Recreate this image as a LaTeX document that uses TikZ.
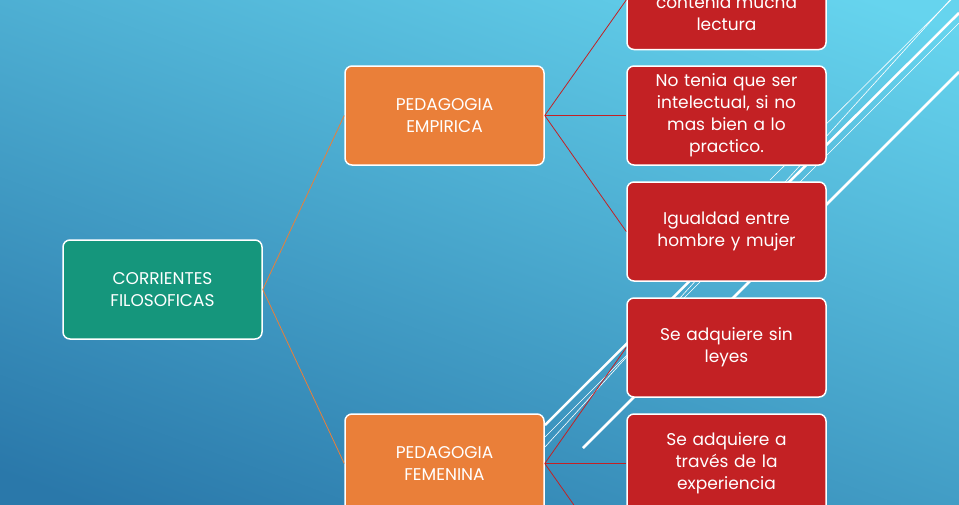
\documentclass[tikz,border=0pt]{standalone}
\usepackage{fontspec}
\setmainfont{Poppins}
\usetikzlibrary{shadings}
\definecolor{bgtop}{HTML}{66D4EE}
\definecolor{bgbot}{HTML}{2A78AA}
\definecolor{teal}{HTML}{15967C}
\definecolor{orng}{HTML}{EA7F39}
\definecolor{rd}{HTML}{C32124}
\tikzset{
 box/.style={draw=white,line width=1.5pt,rounded corners=7pt,minimum width=199pt,minimum height=99pt,text width=195pt,align=center,text=white,font=\fontsize{17}{22}\selectfont,inner sep=0pt},
 txt/.style={text=white,align=center,font=\fontsize{17}{22}\selectfont},
 wl/.style={white,line width=2.5pt},
 tl/.style={white,line width=0.6pt},
}
\begin{document}
\begin{tikzpicture}[x=1pt,y=-1pt]
\useasboundingbox (0,0) rectangle (959,504);
\clip (0,0) rectangle (959,504);
\shade[top color=bgtop,bottom color=bgbot,shading angle=-20] (-60,-60) rectangle (1019,564);
\draw[wl] (583,448) -- (959,72);
\draw[wl] (545,425) -- (959,13);
\draw[tl] (545,437) -- (959,23);
\draw[tl] (545,447) -- (959,-10);
\draw[tl] (770,180) -- (959,-8);
\node[box,fill=teal] (c) at (162.5,289.5) {CORRIENTES\\FILOSOFICAS};
\node[box,fill=orng] (e) at (444.5,115.5) {PEDAGOGIA\\EMPIRICA};
\node[box,fill=orng] (f) at (444.5,463.5) {PEDAGOGIA\\FEMENINA};
\node[box,fill=rd] (r1) at (726.5,0) {};
\node[txt] (r1t) at (726.5,13) {contenia mucha\\lectura};
\node[box,fill=rd] (r2) at (726.5,115.5) {No tenia que ser\\intelectual, si no\\mas bien a lo\\practico.};
\node[box,fill=rd] (r3) at (726.5,231.5) {Igualdad entre\\hombre y mujer};
\node[box,fill=rd] (r4) at (726.5,347.5) {Se adquiere sin\\leyes};
\node[box,fill=rd] (r5) at (726.5,463.5) {Se adquiere a\\través de la\\experiencia};
\node[box,fill=rd] (r6) at (726.5,579.5) {};
\foreach \t in {e,f} \draw[orng,line width=0.8pt] (c.east) -- (\t.west);
\foreach \t in {r1,r2,r3} \draw[rd,line width=0.8pt] (e.east) -- (\t.west);
\foreach \t in {r4,r5,r6} \draw[rd,line width=0.8pt] (f.east) -- (\t.west);
\end{tikzpicture}
\end{document}
